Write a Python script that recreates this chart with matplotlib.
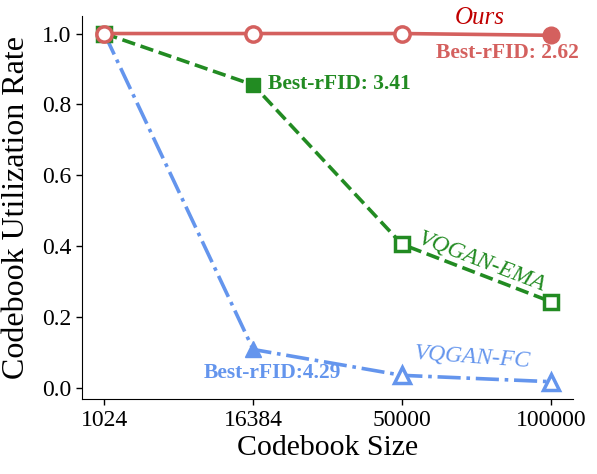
import matplotlib
matplotlib.use("Agg")
import matplotlib.pyplot as plt

plt.rcParams['font.family'] = ['Liberation Serif', 'DejaVu Serif']

sizes = ['1024', '16384', '50000', '100000']
ours = [1.0, 1.0, 1.0, 0.995]
ema = [1.0, 0.855, 0.405, 0.243]
fc = [1.0, 0.108, 0.035, 0.017]
yticks = [0.0, 0.2, 0.4, 0.6, 0.8, 1.0]

c_red = '#D4605E'
c_green = '#228B22'
c_blue = '#6495ED'

fig = plt.figure(figsize=(5.97, 4.74), dpi=100)
ax = fig.add_axes([0.1374, 0.158, 0.8226, 0.808])
x = list(range(len(sizes)))

lw = 2.6
# VQGAN-FC
ax.plot(x, fc, linestyle='-.', color=c_blue, lw=lw, zorder=2)
ax.plot(x[1:2], fc[1:2], marker='^', ms=11, color=c_blue, ls='none', zorder=3)
ax.plot(x[2:], fc[2:], marker='^', ms=11, mfc='white', mec=c_blue, mew=2.5, ls='none', zorder=3)
# VQGAN-EMA
ax.plot(x, ema, linestyle='--', color=c_green, lw=lw, zorder=2)
ax.plot(x[1:2], ema[1:2], marker='s', ms=10, color=c_green, ls='none', zorder=3)
ax.plot([x[0]] + x[2:], [ema[0]] + ema[2:], marker='s', ms=10, mfc='white', mec=c_green, mew=2.5, ls='none', zorder=3)
# Ours
ax.plot(x, ours, linestyle='-', color=c_red, lw=lw, zorder=4)
ax.plot(x[:3], ours[:3], marker='o', ms=11, mfc='white', mec=c_red, mew=2.5, ls='none', zorder=5)
ax.plot(x[3:], ours[3:], marker='o', ms=12, color=c_red, ls='none', zorder=5)

ax.set_xticks(x)
ax.set_xticklabels(sizes)
ax.set_yticks(yticks)
ax.set_yticklabels([f'{v:.1f}' for v in yticks])
ax.tick_params(labelsize=17, width=1, length=4)
ax.set_xlabel('Codebook Size', fontsize=21.5, labelpad=3)
ax.set_ylabel('Codebook Utilization Rate', fontsize=23, labelpad=8)
for s in ['top', 'right']:
    ax.spines[s].set_visible(False)

def px2data(px, py):
    inv = ax.transData.inverted()
    return inv.transform((px, 474 - py))

fig.canvas.draw()
ax.text(*px2data(480, 18), 'Ours', color='#C00000', fontsize=18, style='italic', ha='center', va='center')
ax.text(*px2data(507, 53), 'Best-rFID: 2.62', color=c_red, fontsize=15.5, weight='bold', ha='center', va='center')
ax.text(*px2data(268, 84), 'Best-rFID: 3.41', color=c_green, fontsize=15.5, weight='bold', ha='left', va='center')
ax.text(*px2data(272, 373), 'Best-rFID:4.29', color=c_blue, fontsize=15.5, weight='bold', ha='center', va='center')
ax.text(*px2data(482, 262), 'VQGAN-EMA', color=c_green, fontsize=17, style='italic', ha='center', va='center', rotation=-21, rotation_mode='anchor')
ax.text(*px2data(473, 357), 'VQGAN-FC', color=c_blue, fontsize=17, style='italic', ha='center', va='center', rotation=-4, rotation_mode='anchor')

fig.savefig('out.png', dpi=100)
